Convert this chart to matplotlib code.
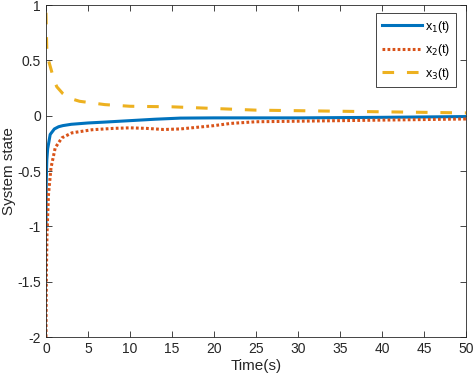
import matplotlib
matplotlib.use("Agg")
import matplotlib.pyplot as plt

plt.rcParams['font.family'] = ['Liberation Sans', 'DejaVu Sans']

t1 = [0, 0.03, 0.1, 0.2, 0.5, 1, 1.5, 2, 3, 5, 7, 10, 13, 16, 20, 30, 40, 50]
x1 = [-1.0, -0.6, -0.4, -0.3, -0.17, -0.12, -0.1, -0.09, -0.078, -0.066, -0.058,
      -0.045, -0.032, -0.022, -0.02, -0.02, -0.015, -0.008]

t2 = [0, 0.05, 0.12, 0.3, 0.6, 1.1, 1.9, 3.1, 5.5, 8, 10, 12, 14, 16, 18, 20, 22,
      25, 30, 40, 50]
x2 = [-2.0, -1.4, -1.07, -0.71, -0.47, -0.29, -0.2, -0.155, -0.127, -0.115, -0.11,
      -0.115, -0.125, -0.12, -0.105, -0.09, -0.07, -0.055, -0.05, -0.04, -0.03]

t3 = [0, 0.05, 0.1, 0.3, 0.6, 1.0, 1.3, 2, 2.7, 4, 5, 7, 10, 15, 20, 25, 30, 40, 50]
x3 = [0.93, 0.75, 0.6, 0.5, 0.42, 0.31, 0.26, 0.2, 0.16, 0.13, 0.12, 0.1, 0.085,
      0.08, 0.065, 0.05, 0.045, 0.035, 0.025]

labels = ['x$_1$(t)', 'x$_2$(t)', 'x$_3$(t)']
xticks = [0, 5, 10, 15, 20, 25, 30, 35, 40, 45, 50]
yticks = [-2, -1.5, -1, -0.5, 0, 0.5, 1]

fig = plt.figure(figsize=(4.74, 3.76), dpi=100)
ax = fig.add_axes([0.097, 0.1037, 0.886, 0.883])

ax.plot(t1, x1, color='#0072BD', lw=2.2, label=labels[0])
ax.plot(t2, x2, color='#D95319', lw=2.2, linestyle=(0, (0.9, 0.75)), label=labels[1])
ax.plot(t3, x3, color='#EDB120', lw=2.2, linestyle=(0, (3.8, 4.2)), label=labels[2])

ax.set_xlim(0, 50)
ax.set_ylim(-2, 1)
ax.set_xticks(xticks)
ax.set_xticklabels([str(v) for v in xticks])
ax.set_yticks(yticks)
ax.set_yticklabels(['-2', '-1.5', '-1', '-0.5', '0', '0.5', '1'])
ax.tick_params(direction='in', top=True, right=True, labelsize=10, length=4,
               color='#262626', labelcolor='#262626', width=0.6)
for s in ax.spines.values():
    s.set_color('#262626')
    s.set_linewidth(0.6)
ax.set_xlabel('Time(s)', fontsize=11, color='#262626', labelpad=2)
ax.set_ylabel('System state', fontsize=11, color='#262626', labelpad=1)

leg = ax.legend(loc='upper right', bbox_to_anchor=(0.976, 0.976), borderaxespad=0,
                fontsize=9, fancybox=False, edgecolor='#262626', framealpha=1,
                handlelength=3.2, borderpad=0.45, labelspacing=0.6, handletextpad=0.25)
leg.get_frame().set_linewidth(0.6)

fig.savefig('out.png', dpi=100)
